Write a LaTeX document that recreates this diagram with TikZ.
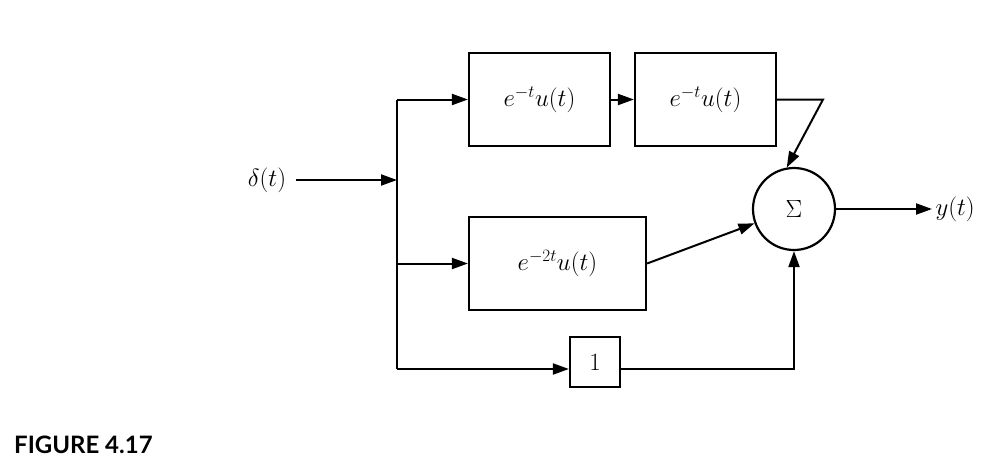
\documentclass[tikz,border=0pt]{standalone}
\usepackage{fontspec}
\newfontfamily\capfont{Lato}
\usetikzlibrary{arrows.meta}
\begin{document}
\begin{tikzpicture}[x=1pt,y=-1pt,
  blk/.style={draw,line width=2.2pt,inner sep=0pt,font=\fontsize{24}{28}\selectfont},
  ar/.style={line width=2pt,-{Triangle[length=16pt,width=11pt]}},
  ln/.style={line width=2pt}]
\useasboundingbox (0,0) rectangle (1003,466);
\node[blk,minimum width=141pt,minimum height=93pt] (b1) at (539.5,99.5) {$e^{-t}u(t)$};
\node[blk,minimum width=141pt,minimum height=93pt] (b2) at (705.5,99.5) {$e^{-t}u(t)$};
\node[blk,minimum width=177pt,minimum height=93pt] (b3) at (557.5,263.5) {$e^{-2t}u(t)$};
\node[blk,minimum width=50pt,minimum height=50pt] (b4) at (595,362) {$1$};
\node[blk,circle,minimum size=82pt] (s) at (794,209) {$\Sigma$};
\node[font=\fontsize{24}{28}\selectfont] (d) at (267,180) {$\delta(t)$};
\node[font=\fontsize{24}{28}\selectfont,anchor=west] (y) at (932,209) {$y(t)$};
\coordinate (j) at (397,180);
\coordinate (t) at (397,99.5);
\coordinate (m) at (397,263.5);
\coordinate (bt) at (397,369);
\coordinate (k) at (823,99.5);
\draw[ar] (d.east) ++(6,0) -- (j);
\draw[ln] (t) -- (bt);
\draw[ar] (t) -- (b1.west);
\draw[ar] (b1.east) -- (b2.west);
\draw[ar] (m) -- (b3.west);
\draw[ar] (bt) -- (bt -| b4.west);
\draw[ar] (b2.east) -- (k) -- (s.100);
\draw[ar] (b3.east) -- (s.200);
\draw[ar] (bt -| b4.east) -| (s.south);
\draw[ar] (s.east) -- (y.west);
\node[font=\capfont\bfseries\fontsize{24}{28}\selectfont,anchor=west,inner sep=0pt] (cap) at (14,445) {FIGURE 4.17};
\end{tikzpicture}
\end{document}
